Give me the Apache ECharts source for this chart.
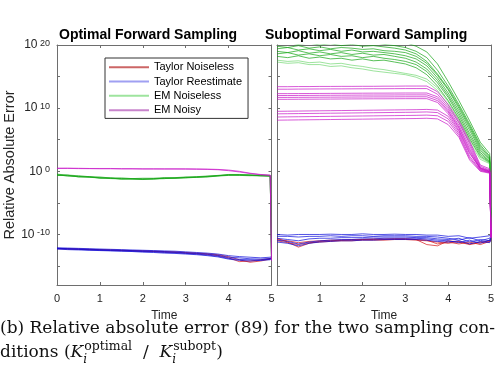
<!DOCTYPE html>
<html><head><meta charset="utf-8">
<script src="https://cdn.jsdelivr.net/npm/echarts@6/dist/echarts.min.js"></script>
<style>html,body{margin:0;padding:0;background:#fff}#c{width:500px;height:378px}</style>
</head><body><div id="c"></div>
<script>
// time grid (s)
var T = [0,0.25,0.5,0.75,1,1.25,1.5,1.75,2,2.25,2.5,2.75,3,3.25,3.5,3.75,4,4.25,4.5,4.75,4.97,5];
// y tick exponents (log10 of relative absolute error)
var yTickVals = [-15,-10,-5,0,5,10,15,20];
var yLabelVals = [-10,0,10,20];
var xTicks = [0,1,2,3,4,5];
var legendNames = ['Taylor Noiseless','Taylor Reestimate','EM Noiseless','EM Noisy'];

// ---- Optimal Forward Sampling (log10 error) ----
var optRed = [
 [-12.2,-12.25,-12.3,-12.35,-12.4,-12.45,-12.5,-12.55,-12.6,-12.65,-12.7,-12.75,-12.85,-12.95,-13.05,-13.2,-13.5,-14.0,-14.4,-14.2,-13.9,-13.6],
 [-12.25,-12.3,-12.35,-12.4,-12.45,-12.5,-12.55,-12.6,-12.65,-12.7,-12.8,-12.85,-12.95,-13.05,-13.15,-13.35,-13.7,-14.3,-14.2,-14.0,-13.8,-13.6]
];
var optBlue = [
 [-12.1,-12.15,-12.2,-12.25,-12.3,-12.35,-12.4,-12.45,-12.5,-12.55,-12.6,-12.65,-12.75,-12.85,-12.95,-13.1,-13.35,-13.5,-13.6,-13.7,-13.6,-13.4],
 [-12.2,-12.25,-12.3,-12.35,-12.4,-12.45,-12.5,-12.55,-12.6,-12.65,-12.7,-12.8,-12.9,-13.0,-13.1,-13.3,-13.6,-13.7,-13.85,-13.9,-13.8,-13.6],
 [-12.25,-12.3,-12.35,-12.45,-12.5,-12.55,-12.6,-12.65,-12.7,-12.75,-12.85,-12.9,-13.0,-13.1,-13.25,-13.45,-13.8,-13.95,-14.0,-14.05,-13.9,-13.7],
 [-12.3,-12.4,-12.45,-12.5,-12.55,-12.6,-12.65,-12.7,-12.8,-12.85,-12.95,-13.0,-13.1,-13.2,-13.35,-13.55,-13.9,-14.1,-14.2,-14.1,-14.0,-13.8]
];
var optGreen = [
 [-0.45,-0.6,-0.7,-0.85,-0.9,-1.05,-1.05,-1.15,-1.1,-1.1,-1.0,-1.0,-0.9,-0.85,-0.75,-0.65,-0.5,-0.5,-0.55,-0.6,-0.65,-13.7],
 [-0.6,-0.7,-0.85,-0.95,-1.05,-1.15,-1.2,-1.25,-1.25,-1.2,-1.15,-1.1,-1.05,-0.95,-0.9,-0.75,-0.65,-0.6,-0.65,-0.75,-0.75,-13.6],
 [-0.55,-0.75,-0.8,-0.9,-1.0,-1.1,-1.15,-1.2,-1.3,-1.15,-1.15,-1.05,-1.0,-0.9,-0.85,-0.7,-0.6,-0.55,-0.6,-0.7,-0.7,-13.8],
 [-0.65,-0.6,-0.9,-0.85,-1.1,-1.05,-1.25,-1.15,-1.2,-1.25,-1.05,-1.1,-0.95,-0.95,-0.8,-0.7,-0.55,-0.65,-0.7,-0.65,-0.8,-13.7]
];
var optMagenta = [
 [0.5,0.5,0.48,0.45,0.45,0.45,0.42,0.42,0.4,0.4,0.4,0.4,0.4,0.38,0.35,0.3,0.2,0.0,-0.3,-0.5,-0.6,-13.9],
 [0.45,0.46,0.43,0.42,0.4,0.4,0.38,0.38,0.36,0.36,0.35,0.35,0.34,0.32,0.3,0.25,0.1,-0.1,-0.35,-0.55,-0.65,-14.2]
];

// ---- Suboptimal Forward Sampling (log10 error) ----
var subRed = [
 [-10.6,-11.2,-12.0,-11.4,-11.1,-11.0,-10.9,-10.9,-10.8,-10.8,-10.8,-10.7,-10.7,-10.8,-11.6,-11.8,-11.0,-11.2,-11.6,-11.3,-11.0,-10.6],
 [-10.8,-11.0,-11.3,-11.1,-11.0,-10.9,-10.9,-10.8,-10.8,-10.7,-10.7,-10.7,-10.7,-10.8,-10.9,-11.5,-11.2,-11.5,-11.2,-11.6,-11.1,-10.7],
 [-11.0,-11.3,-11.6,-11.3,-11.2,-11.1,-11.0,-11.0,-10.9,-10.9,-10.9,-10.8,-10.8,-10.9,-11.0,-11.2,-11.4,-11.1,-11.5,-11.2,-11.2,-10.9]
];
var subBlue = [
 [-10.0,-10.1,-10.0,-10.0,-10.0,-9.95,-10.0,-10.0,-9.9,-10.0,-10.0,-9.95,-10.0,-10.0,-10.1,-10.1,-10.3,-10.2,-10.6,-10.4,-10.2,-9.9],
 [-10.3,-10.3,-10.4,-10.3,-10.3,-10.2,-10.3,-10.2,-10.2,-10.3,-10.2,-10.2,-10.2,-10.3,-10.3,-10.4,-10.6,-10.9,-10.5,-11.0,-10.6,-10.2],
 [-10.6,-10.8,-11.0,-10.7,-10.6,-10.6,-10.5,-10.5,-10.5,-10.4,-10.4,-10.4,-10.4,-10.5,-10.5,-10.7,-10.8,-10.6,-11.2,-10.8,-11.0,-10.5],
 [-10.9,-11.1,-11.5,-11.2,-11.0,-10.9,-10.8,-10.8,-10.7,-10.7,-10.6,-10.6,-10.6,-10.6,-10.7,-10.9,-11.0,-11.3,-10.9,-11.4,-10.9,-10.4],
 [-11.2,-11.4,-11.8,-11.4,-11.2,-11.1,-11.0,-11.0,-10.9,-10.9,-10.8,-10.8,-10.8,-10.8,-10.9,-11.1,-11.2,-11.0,-11.5,-11.1,-11.3,-10.8]
];
var subGreen = [
 [21.5,21.3,21.6,21.2,21.4,21.1,21.3,21.0,21.2,20.9,21.0,20.6,20.4,19.8,18.9,17.0,14.2,11.2,8.0,4.6,2.8,-10.4],
 [20.8,20.6,20.9,20.7,20.5,20.7,20.4,20.6,20.3,20.4,20.1,19.9,19.6,19.0,18.0,16.0,13.5,10.6,7.5,4.2,2.4,-10.3],
 [20.2,20.4,20.1,20.3,20.0,20.2,19.9,20.1,19.8,19.9,19.7,19.5,19.2,18.6,17.4,15.4,13.1,10.3,7.2,3.9,2.2,-10.2],
 [19.8,19.6,19.9,19.5,19.7,19.4,19.6,19.5,19.3,19.4,19.1,19.0,18.8,18.2,17.1,15.2,12.9,10.0,6.9,3.6,2.0,-10.3],
 [19.4,19.6,19.2,19.4,19.1,19.3,19.0,19.2,18.9,19.0,18.8,18.6,18.3,17.8,16.7,14.8,12.4,9.6,6.5,3.3,1.8,-10.4],
 [19.0,18.8,19.1,18.7,18.9,18.6,18.8,18.5,18.7,18.4,18.5,18.2,17.9,17.3,16.2,14.4,12.0,9.2,6.0,3.0,1.6,-10.3],
 [18.6,18.8,18.4,18.6,18.3,18.5,18.2,18.3,18.0,18.2,17.9,17.7,17.4,16.9,15.8,14.0,11.7,8.8,5.6,2.7,1.5,-10.2],
 [18.2,18.0,18.3,17.9,18.1,17.8,17.9,17.6,17.8,17.5,17.6,17.3,17.0,16.4,15.3,13.5,11.2,8.4,5.2,2.4,1.4,-10.3]
];
var subGreenLight = [
 [17.6,17.4,17.5,17.2,17.3,17.0,17.1,16.8,16.6,16.3,16.1,15.8,15.5,15.2,14.6,13.2,11.0,8.2,5.0,2.2,1.3,-10.4],
 [17.3,17.1,17.2,16.9,16.9,16.6,16.7,16.4,16.2,15.9,15.7,15.5,15.3,14.9,14.2,12.8,10.5,7.7,4.6,1.9,1.2,-10.3]
];
var subMagenta = [
 [13.4,13.4,13.42,13.42,13.44,13.44,13.45,13.45,13.46,13.46,13.48,13.48,13.5,13.5,13.5,12.6,10.6,8.0,4.8,1.0,0.4,-10.4],
 [13.0,13.0,13.02,13.03,13.04,13.05,13.05,13.06,13.07,13.08,13.08,13.09,13.1,13.1,13.1,12.2,10.2,7.7,4.4,0.8,0.2,-10.5],
 [12.3,12.3,12.31,12.32,12.33,12.34,12.35,12.36,12.37,12.38,12.38,12.39,12.4,12.4,12.4,11.8,9.9,7.3,4.0,0.6,0.1,-10.4],
 [12.0,12.0,12.01,12.02,12.03,12.04,12.05,12.06,12.07,12.08,12.08,12.09,12.1,12.1,12.1,11.5,9.6,7.0,3.6,0.5,0.0,-10.5],
 [11.7,11.7,11.71,11.72,11.73,11.74,11.75,11.76,11.77,11.78,11.78,11.79,11.8,11.8,11.8,11.2,9.4,6.8,3.3,0.4,-0.1,-10.4],
 [11.4,11.4,11.41,11.42,11.43,11.44,11.45,11.46,11.47,11.48,11.48,11.49,11.5,11.5,11.5,10.9,9.1,6.5,3.0,0.3,-0.1,-10.5],
 [9.5,9.52,9.54,9.56,9.58,9.6,9.62,9.64,9.66,9.68,9.7,9.72,9.74,9.76,9.8,9.7,8.7,6.3,2.8,0.5,0.0,-10.4],
 [9.1,9.12,9.14,9.16,9.18,9.2,9.22,9.24,9.26,9.28,9.3,9.32,9.34,9.36,9.4,9.3,8.3,6.0,2.4,0.2,-0.2,-10.5],
 [8.6,8.62,8.64,8.66,8.68,8.7,8.72,8.74,8.76,8.78,8.8,8.82,8.84,8.86,8.9,8.8,7.9,5.7,2.1,0.1,-0.2,-10.4],
 [8.1,8.12,8.14,8.16,8.18,8.2,8.22,8.24,8.26,8.28,8.3,8.32,8.34,8.36,8.4,8.3,7.4,5.4,1.8,0.0,-0.3,-10.5]
];

var COL = {
  red: 'rgba(215,20,20,0.7)',
  blue: 'rgba(10,10,220,0.7)',
  green: 'rgba(20,165,20,0.7)',
  greenLight: 'rgba(60,200,60,0.5)',
  magenta: 'rgba(200,20,200,0.7)'
};
var LEGCOL = ['#cc6666', '#a0a0f2', '#9ee49e', '#c884cc'];

var series = [];
function add(name, color, lines, g) {
  lines.forEach(function (vals) {
    series.push({
      type: 'line', name: name, xAxisIndex: g * 2, yAxisIndex: g * 2,
      data: T.map(function (t, i) { return [t, vals[i]]; }),
      symbol: 'none', showSymbol: false, silent: true, clip: true,
      lineStyle: { color: color, width: 1 }, itemStyle: { color: color },
      emphasis: { disabled: true }
    });
  });
}
add('Taylor Noiseless', COL.red, optRed, 0);
add('Taylor Reestimate', COL.blue, optBlue, 0);
add('EM Noiseless', COL.green, optGreen, 0);
add('EM Noisy', COL.magenta, optMagenta, 0);
add('Taylor Noiseless', COL.red, subRed, 1);
add('Taylor Reestimate', COL.blue, subBlue, 1);
add('EM Noiseless', COL.green, subGreen, 1);
add('EM Noiseless', COL.greenLight, subGreenLight, 1);
add('EM Noisy', COL.magenta, subMagenta, 1);

var AX = '#6e6e6e', TXT = '#262626', FONT = 'Liberation Sans, Arial, sans-serif';
function xAx(g, bottom, showMin) {
  return {
    type: 'value', gridIndex: g, min: 0, max: 5, interval: 1,
    position: bottom ? 'bottom' : 'top',
    name: bottom ? 'Time' : '', nameLocation: 'middle', nameGap: 25,
    nameTextStyle: { fontSize: 12, color: TXT, fontFamily: FONT },
    axisLine: { show: true, onZero: false, lineStyle: { color: AX, width: 1 } },
    axisTick: { show: true, inside: true, length: 3, lineStyle: { color: AX }, customValues: xTicks },
    axisLabel: { show: bottom, showMinLabel: showMin, margin: 8, fontSize: 11, color: TXT, fontFamily: FONT },
    splitLine: { show: false }
  };
}
function yAx(g, left, labels) {
  return {
    type: 'value', gridIndex: g, min: -18, max: 20,
    position: left ? 'left' : 'right',
    name: labels ? 'Relative Absolute Error' : '', nameLocation: 'middle', nameGap: 39,
    nameTextStyle: { fontSize: 14.5, color: TXT, fontFamily: FONT },
    axisLine: { show: true, onZero: false, lineStyle: { color: AX, width: 1 } },
    axisTick: { show: true, inside: true, length: 3, lineStyle: { color: AX }, customValues: yTickVals },
    axisLabel: {
      show: labels, customValues: yLabelVals, margin: 7, fontFamily: FONT,
      formatter: function (v) { return '{b|10}{s| ' + v + '}'; },
      rich: {
        b: { fontSize: 12, color: TXT, lineHeight: 12, verticalAlign: 'bottom', fontFamily: FONT },
        s: { fontSize: 9, color: TXT, lineHeight: 9, padding: [0, 0, 9, 0], verticalAlign: 'top', fontFamily: FONT }
      }
    },
    splitLine: { show: false }
  };
}

var SERIF = 'DejaVu Serif, serif';
var chart = echarts.init(document.getElementById('c'), null, { renderer: 'canvas' });
chart.setOption({
  animation: false,
  backgroundColor: '#fff',
  textStyle: { fontFamily: FONT },
  title: [
    { text: 'Optimal Forward Sampling', left: 59, top: 28, padding: 0,
      textStyle: { fontSize: 14, fontWeight: 'bold', color: '#000', fontFamily: FONT } },
    { text: 'Suboptimal Forward Sampling', left: 265, top: 28, padding: 0,
      textStyle: { fontSize: 14, fontWeight: 'bold', color: '#000', fontFamily: FONT } }
  ],
  legend: {
    data: legendNames.map(function (n, i) {
      return { name: n, icon: 'rect', itemStyle: { color: LEGCOL[i], borderWidth: 0, opacity: 1 } };
    }),
    orient: 'vertical', left: 105, top: 58,
    padding: [3, 6, 2, 4], itemWidth: 40, itemHeight: 2, itemGap: 1.8,
    itemStyle: { borderWidth: 0 },
    backgroundColor: '#fff', borderColor: '#333', borderWidth: 1, borderRadius: 0,
    textStyle: { fontSize: 11, color: '#000', fontFamily: FONT, lineHeight: 12.5 },
    selectedMode: false
  },
  grid: [
    { left: 57, top: 45, width: 214.5, height: 240 },
    { left: 277, top: 45, width: 214, height: 240 }
  ],
  xAxis: [xAx(0, true, true), xAx(0, false, true), xAx(1, true, false), xAx(1, false, false)],
  yAxis: [yAx(0, true, true), yAx(0, false, false), yAx(1, true, false), yAx(1, false, false)],
  series: series,
  graphic: [
    { type: 'text', left: 0, top: 320,
      style: { text: '(b) Relative absolute error (89) for the two sampling con-',
        fontSize: 17, fontFamily: SERIF, fill: '#111' } },
    { type: 'text', left: 0, top: 340,
      style: { text: '{n|ditions (}{k|K}{sb|i}{sp|optimal}{n|  /  }{k|K}{sb|i}{sp|subopt}{n|)}',
        fontSize: 17, fontFamily: SERIF, fill: '#111',
        rich: {
          n: { fontSize: 17, lineHeight: 26, verticalAlign: 'middle', fontFamily: SERIF, fill: '#111' },
          k: { fontSize: 17, lineHeight: 26, verticalAlign: 'middle', fontStyle: 'italic', fontFamily: SERIF, fill: '#111' },
          sb: { fontSize: 12, lineHeight: 11, verticalAlign: 'bottom', fontStyle: 'italic', width: 1, fontFamily: SERIF, fill: '#111' },
          sp: { fontSize: 12.5, lineHeight: 13, verticalAlign: 'top', fontFamily: SERIF, fill: '#111' }
        } } }
  ]
});
</script></body></html>
